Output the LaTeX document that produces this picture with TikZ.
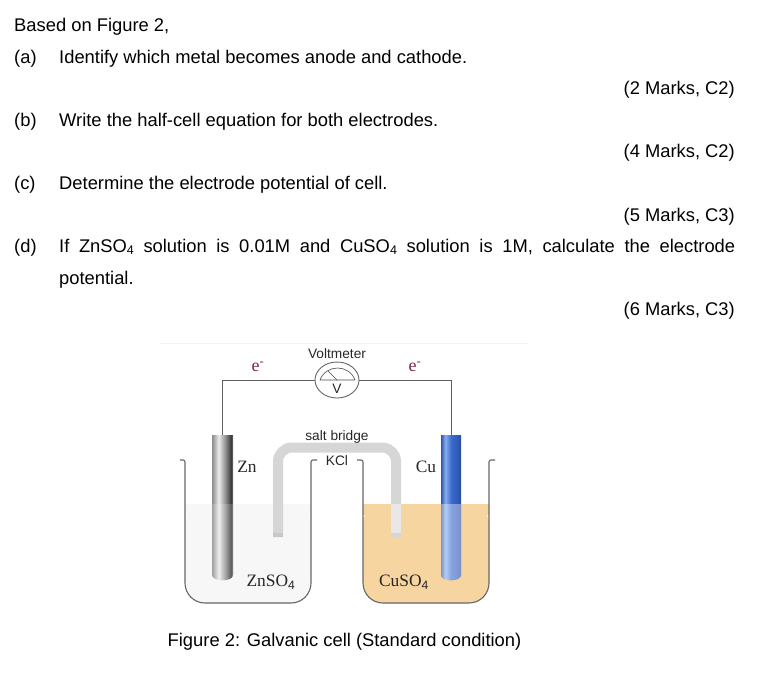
\documentclass[tikz,border=0pt]{standalone}
\usepackage{fontspec}
\setmainfont{Liberation Sans}
\newfontfamily\labelserif{Liberation Serif}
\usetikzlibrary{positioning, shapes.geometric}

\definecolor{wirecol}{HTML}{606060}
\definecolor{glasscol}{HTML}{666666}
\definecolor{cusocol}{HTML}{F6D5A0}
\definecolor{znsocol}{HTML}{F7F7F7}
\definecolor{bridgecol}{HTML}{D6D6D6}
\definecolor{ecol}{HTML}{7A2A3A}
\definecolor{zna}{HTML}{8C8C8C}
\definecolor{znb}{HTML}{EBEBEB}
\definecolor{znc}{HTML}{8A8A8A}
\definecolor{znd}{HTML}{3C3C3C}
\definecolor{zne}{HTML}{707070}
\definecolor{cua}{HTML}{2F55A8}
\definecolor{cub}{HTML}{86AEF0}
\definecolor{cuc}{HTML}{3C6CD0}
\definecolor{cud}{HTML}{2A4FA6}

\pgfdeclarehorizontalshading{zincmetal}{100bp}{color(0bp)=(zna); color(25bp)=(zna); color(41bp)=(znb); color(58bp)=(znc); color(70bp)=(znd); color(75bp)=(zne); color(100bp)=(zne)}
\pgfdeclarehorizontalshading{coppermetal}{100bp}{color(0bp)=(cua); color(25bp)=(cua); color(36bp)=(cub); color(50bp)=(cuc); color(75bp)=(cud); color(100bp)=(cud)}

\newcommand{\smallfour}{\raisebox{-1.5pt}{\fontsize{12.5}{14}\selectfont 4}}

\begin{document}
\begin{tikzpicture}[x=1pt, y=-1pt,
    qline/.style = {anchor=base west, inner sep=0pt, font=\fontsize{18.35}{20}\selectfont},
    marks/.style = {anchor=base east, inner sep=0pt, font=\fontsize{18.35}{20}\selectfont},
    small/.style = {inner sep=0pt, font=\fontsize{13.7}{15}\selectfont, text=black!85},
    chem/.style = {inner sep=0pt, font=\labelserif\fontsize{17.4}{20}\selectfont, text=black!85},
    elec/.style = {inner sep=0pt, font=\labelserif\fontsize{18}{20}\selectfont, text=ecol},
    wire/.style = {draw=wirecol, line width=1pt},
    glass/.style = {draw=glasscol, line width=1.1pt}]
    \useasboundingbox (0,0) rectangle (771,673);

    \node[qline] (head) at (14,31) {Based on Figure 2,};
    \node[qline] (a) at (14,63) {(a)};
    \node[qline] (atext) at (59,63) {Identify which metal becomes anode and cathode.};
    \node[marks] (amarks) at (735,94) {(2 Marks, C2)};
    \node[qline] (b) at (14,126) {(b)};
    \node[qline] (btext) at (59,126) {Write the half-cell equation for both electrodes.};
    \node[marks] (bmarks) at (735,157.5) {(4 Marks, C2)};
    \node[qline] (c) at (14,189) {(c)};
    \node[qline] (ctext) at (59,189) {Determine the electrode potential of cell.};
    \node[marks] (cmarks) at (735,221) {(5 Marks, C3)};
    \node[qline] (d) at (14,252.5) {(d)};
    \node[qline] (dtext) at (59,252.5) {\makebox[676pt][s]{If ZnSO\smallfour{} solution is 0.01M and CuSO\smallfour{} solution is 1M, calculate the electrode}};
    \node[qline] (dtext2) at (59,284) {potential.};
    \node[marks] (dmarks) at (735,315.5) {(6 Marks, C3)};

    \draw[black!5] (160,343) -- (528,343);

    \fill[znsocol, rounded corners=20] (185,504) -- (185,603) -- (311,603) -- (311,504) -- cycle;
    \fill[cusocol, rounded corners=20] (363,504) -- (363,603) -- (489,603) -- (489,504) -- cycle;
    \fill[znsocol] (185,504) rectangle (311,515);
    \fill[cusocol] (363,504) rectangle (489,515);

    \draw[bridgecol, line width=10pt, rounded corners=14] (278,537) -- (278,447.5) -- (396,447.5) -- (396,537);
    \fill[white, opacity=0.45] (391,504) rectangle (401,537);
    \fill[black!22] (273,533) rectangle (283,537);
    \fill[black!16] (391,533) rectangle (401,537);

    \shade[shading=zincmetal] (212,435) -- (233,435) -- (233,575) .. controls (233,582) and (212,582) .. (212,575) -- cycle;
    \shade[shading=coppermetal] (441,435) -- (461,435) -- (461,575) .. controls (461,582) and (441,582) .. (441,575) -- cycle;
    \fill[white, opacity=0.18] (212,504) -- (233,504) -- (233,575) .. controls (233,582) and (212,582) .. (212,575) -- cycle;
    \fill[white, opacity=0.38] (441,504) -- (461,504) -- (461,575) .. controls (461,582) and (441,582) .. (441,575) -- cycle;

    \draw[glass] [rounded corners=2] (180,460) -- (185,460) [rounded corners=20] -- (185,603) -- (311,603) [rounded corners=2] -- (311,460) -- (317,460);
    \draw[glass] [rounded corners=2] (357,460) -- (363,460) [rounded corners=20] -- (363,603) -- (489,603) [rounded corners=2] -- (489,460) -- (495,460);

    \coordinate (zntop) at (222.5,435);
    \coordinate (cutop) at (451,435);
    \node[draw=glasscol, line width=0.9pt, ellipse, minimum width=44pt, minimum height=36pt, inner sep=0pt] (meter) at (337,380) {};
    \draw[wire] (zntop) |- (meter.west);
    \draw[wire] (meter.east) -| (cutop);

    \draw[black!70, line width=0.6pt] (320,380) .. controls (326,364) and (349,364) .. (355,380) -- cycle;
    \draw[black!70, line width=0.7pt] (328,371) -- (337,380);
    \node[small] (vsym) at (337,389) {V};
    \node[small] (volt) [above=3pt of meter] {Voltmeter};

    \node[small] (salt) at (337,437) {salt bridge};
    \node[small] (kcl) at (337,460.5) {KCl};
    \node[chem] (zn) at (247,466.5) {Zn};
    \node[chem] (cu) at (426,466.5) {Cu};
    \node[chem] (znso) at (271,582) {ZnSO$_{\mathrm{4}}$};
    \node[chem] (cuso) at (404,582) {CuSO$_{\mathrm{4}}$};
    \node[elec] (eleft) at (258,367) {e\textsuperscript{-}};
    \node[elec] (eright) at (415,367) {e\textsuperscript{-}};

    \node[inner sep=0pt, font=\fontsize{18.35}{20}\selectfont] (caption) at (344.5,642) {Figure 2: Galvanic cell (Standard condition)};
\end{tikzpicture}
\end{document}
